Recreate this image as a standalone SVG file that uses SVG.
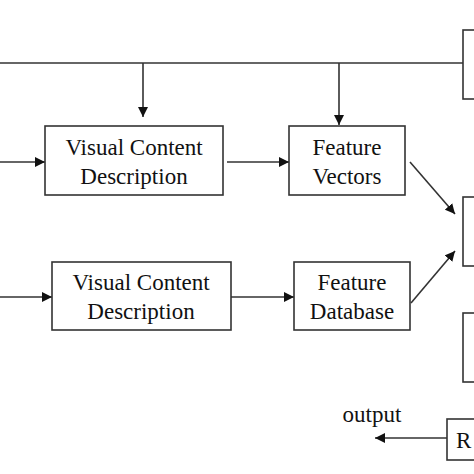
<svg xmlns="http://www.w3.org/2000/svg" width="474" height="474" viewBox="0 0 474 474">
<style>
.box{fill:#fff;stroke:#333;stroke-width:1.6}
.ln{stroke:#333;stroke-width:1.6;fill:none}
.t{font-family:"Liberation Serif","Times New Roman",serif;font-size:23px;fill:#111;text-anchor:middle}
</style>
<defs>
<marker id="ah" viewBox="0 0 10 10" refX="10" refY="5" markerWidth="10" markerHeight="10" markerUnits="userSpaceOnUse" orient="auto">
<path d="M0,0 L10,5 L0,10 Z" fill="#111"/>
</marker>
</defs>
<rect width="474" height="474" fill="#fff"/>
<g id="connectors">
<line class="ln" x1="0" y1="63" x2="463" y2="63"/>
<line class="ln" x1="143" y1="63" x2="143" y2="117" marker-end="url(#ah)"/>
<line class="ln" x1="339" y1="63" x2="339" y2="125" marker-end="url(#ah)"/>
<line class="ln" x1="0" y1="162" x2="45" y2="162" marker-end="url(#ah)"/>
<line class="ln" x1="227" y1="162" x2="289" y2="162" marker-end="url(#ah)"/>
<line class="ln" x1="410" y1="162" x2="455" y2="214" marker-end="url(#ah)"/>
<line class="ln" x1="0" y1="297" x2="52" y2="297" marker-end="url(#ah)"/>
<line class="ln" x1="231" y1="297" x2="294" y2="297" marker-end="url(#ah)"/>
<line class="ln" x1="411" y1="303" x2="455" y2="251" marker-end="url(#ah)"/>
<line class="ln" x1="447" y1="438" x2="375" y2="438" marker-end="url(#ah)"/>
</g>
<g id="node-vcd1">
<rect class="box" x="45" y="126" width="178" height="69"/>
<text class="t" x="134" y="155">Visual Content</text>
<text class="t" x="134" y="184">Description</text>
</g>
<g id="node-fv">
<rect class="box" x="289" y="126" width="116" height="69"/>
<text class="t" x="347" y="155">Feature</text>
<text class="t" x="347" y="184">Vectors</text>
</g>
<g id="node-vcd2">
<rect class="box" x="52" y="262" width="179" height="68"/>
<text class="t" x="141" y="290">Visual Content</text>
<text class="t" x="141" y="319">Description</text>
</g>
<g id="node-fdb">
<rect class="box" x="294" y="262" width="116" height="68"/>
<text class="t" x="352" y="290">Feature</text>
<text class="t" x="352" y="319">Database</text>
</g>
<g id="node-right-top">
<rect class="box" x="463" y="30" width="30" height="69"/>
</g>
<g id="node-right-mid">
<rect class="box" x="463" y="197" width="30" height="69"/>
</g>
<g id="node-right-low">
<rect class="box" x="463" y="313" width="30" height="69"/>
</g>
<g id="node-r">
<rect class="box" x="447" y="419" width="40" height="41"/>
<text class="t" x="456" y="448" style="text-anchor:start">R</text>
</g>
<text class="t" x="372" y="422">output</text>
</svg>
